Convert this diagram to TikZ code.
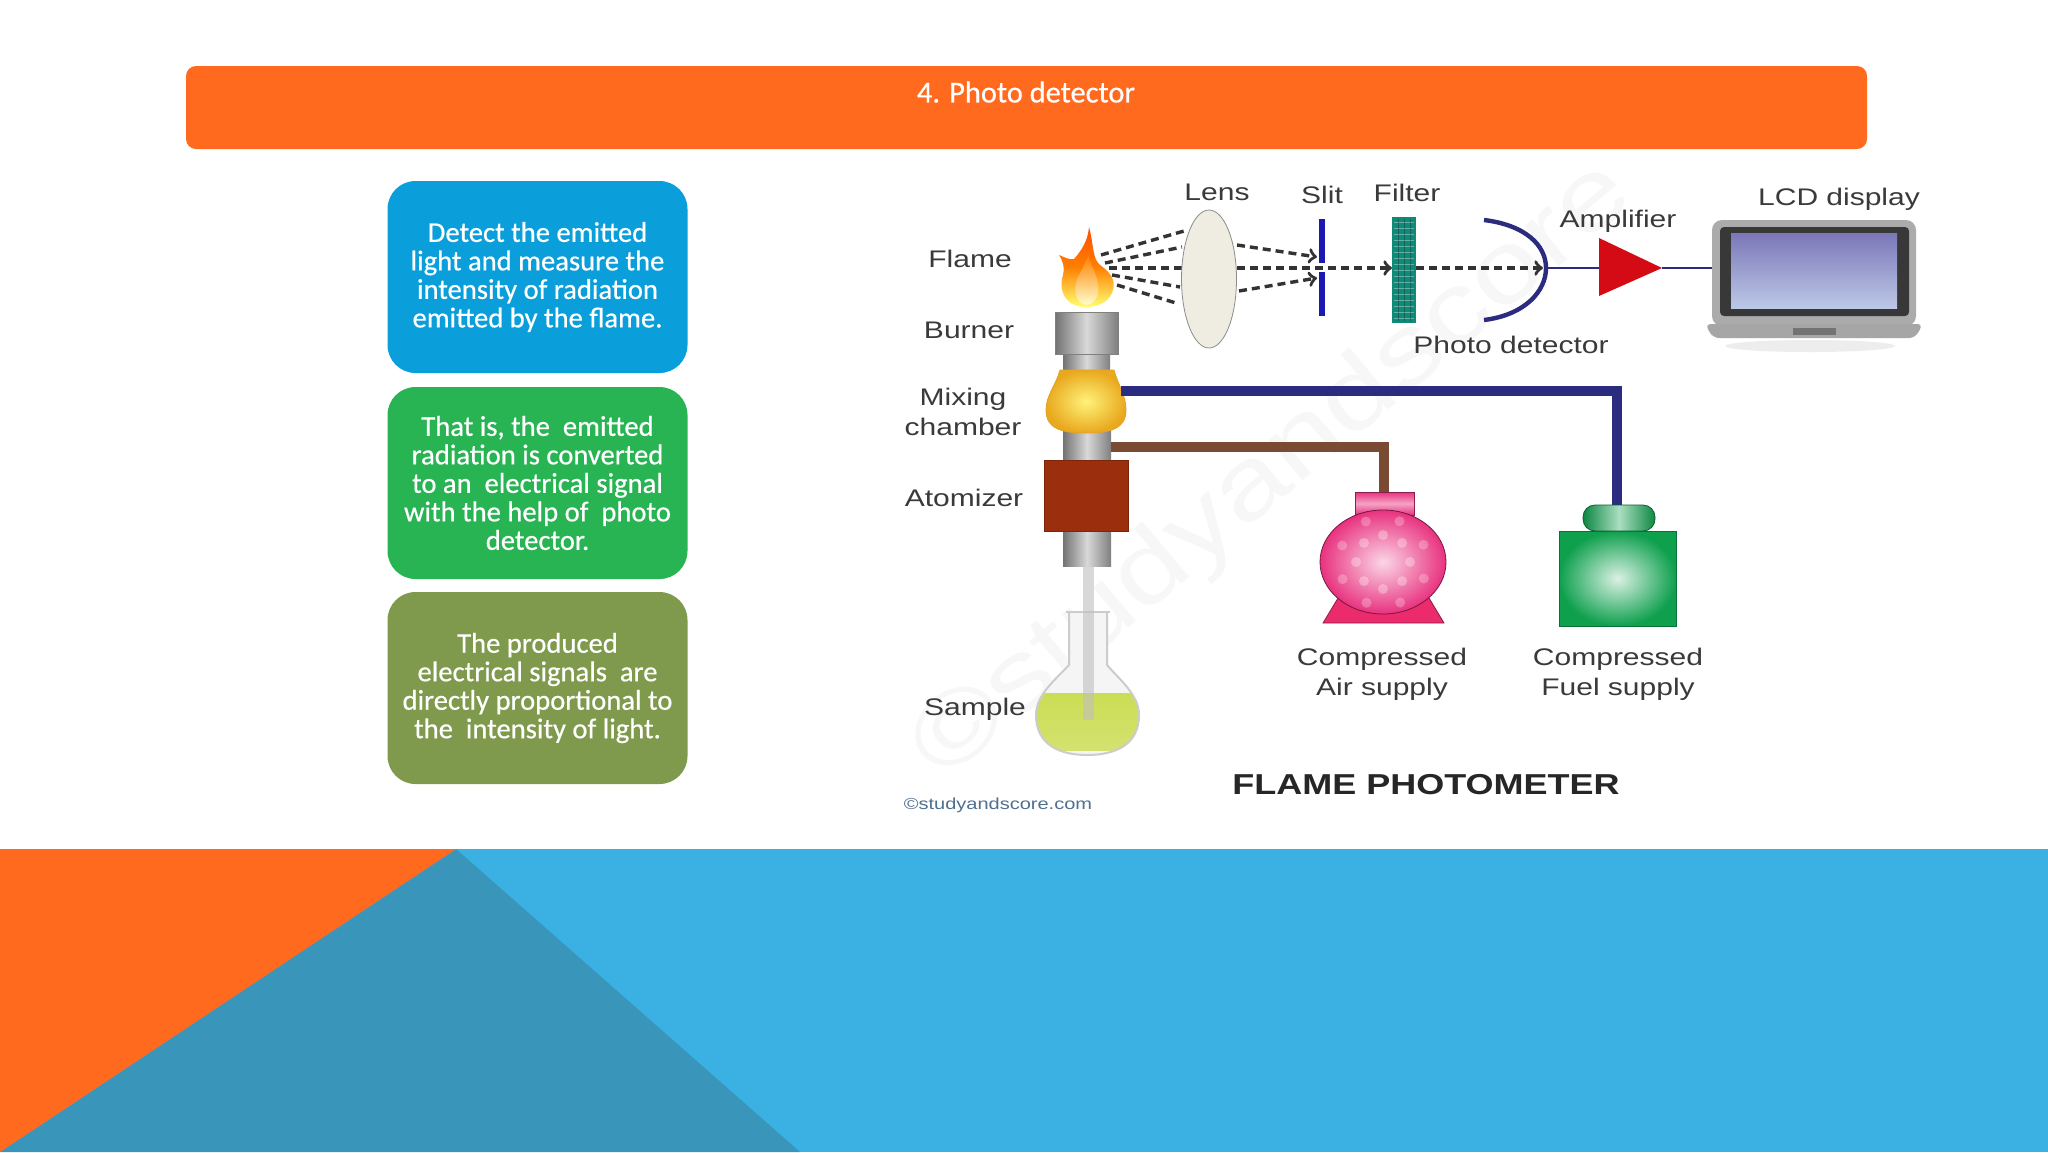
\documentclass[tikz,border=0pt]{standalone}
\usepackage{fontspec}
\setmainfont{Carlito}
\newfontfamily\boxfont[FakeBold=0.5]{Carlito}
\newfontfamily\labelfont[FakeStretch=1.25]{Liberation Sans}
\usetikzlibrary{shapes.geometric}

\definecolor{orangebar}{HTML}{FF6A1F}
\definecolor{skyband}{HTML}{3BB0E3}
\definecolor{tealband}{HTML}{3A95BA}
\definecolor{boxblue}{HTML}{0A9FDB}
\definecolor{boxgreen}{HTML}{29B454}
\definecolor{boxolive}{HTML}{7F9A4C}
\definecolor{labelgray}{HTML}{3A3A3A}
\definecolor{creditblue}{HTML}{4F7090}
\definecolor{navypipe}{HTML}{2B2B80}
\definecolor{brownpipe}{HTML}{7A4A33}
\definecolor{slitblue}{HTML}{1A1AB0}
\definecolor{filterteal}{HTML}{0F8A78}
\definecolor{ampred}{HTML}{D40A14}
\definecolor{brick}{HTML}{9B2E0C}
\definecolor{pinkball}{HTML}{E8327F}
\definecolor{greenbox}{HTML}{0FA04E}
\definecolor{lenscream}{HTML}{EFECE2}
\definecolor{screentop}{HTML}{7B77B8}
\definecolor{screenlow}{HTML}{BCC8E6}
\definecolor{liquid}{HTML}{CBDD55}
\definecolor{mixlight}{HTML}{FFF27A}
\definecolor{mixgold}{HTML}{E9A91E}

\tikzset{
  infobox/.style={rounded corners=14pt, minimum width=150pt, minimum height=96pt, inner sep=0pt,
    text=white, align=center, font=\boxfont\fontsize{14.3}{14.25}\selectfont},
  lab/.style={text=labelgray, align=center, inner sep=0pt, font=\labelfont\fontsize{12}{15}\selectfont},
  ray/.style={line width=1.7pt, dash pattern=on 4pt off 2.5pt, black!80},
  metal/.style={left color=black!55, right color=black!50, middle color=black!15},
  pipe/.style={line width=5pt}
}

\begin{document}
\begin{tikzpicture}[x=0.5pt, y=-0.5pt]

\useasboundingbox (0,0) rectangle (2048,1152);
\fill[white] (0,0) rectangle (2048,1152);

\node[rotate=40, text=black!3, font=\labelfont\fontsize{50}{50}\selectfont] (wmark) at (1274,472) {©studyandscore};

\fill[skyband] (0,849) rectangle (2048,1152);
\fill[tealband] (456,849) -- (800,1152) -- (0,1152) -- cycle;
\fill[orangebar] (0,849) -- (456,849) -- (0,1152) -- cycle;

\fill[orangebar, rounded corners=5pt] (186,66) rectangle (1867,149);
\node[text=white, font=\boxfont\fontsize{15.2}{16}\selectfont] (title) at (1026,92) {4. Photo detector};

\node[infobox, fill=boxblue] (detect) at (537.5,277) {Detect the emitted\\light and measure the\\intensity of radiation\\emitted by the flame.};
\node[infobox, fill=boxgreen] (convert) at (537.5,483) {That is, the~~emitted\\radiation is converted\\to an~~electrical signal\\with the help of~~photo\\detector.};
\node[infobox, fill=boxolive] (produce) at (537.5,688) {The produced\\electrical signals~~are\\directly proportional to\\the~~intensity of light.};

% flask
\fill[black!4] (1069,612) -- (1069,665) .. controls (1055,680) and (1036,695) .. (1036,715) .. controls (1036,745) and (1060,755) .. (1087,755) .. controls (1115,755) and (1139,745) .. (1139,715) .. controls (1139,695) and (1120,680) .. (1107,665) -- (1107,612) -- cycle;
\begin{scope}
\clip (1069,612) -- (1069,665) .. controls (1055,680) and (1036,695) .. (1036,715) .. controls (1036,745) and (1060,755) .. (1087,755) .. controls (1115,755) and (1139,745) .. (1139,715) .. controls (1139,695) and (1120,680) .. (1107,665) -- (1107,612) -- cycle;
\shade[top color=liquid, bottom color=liquid!85] (1030,693) rectangle (1145,750);
\end{scope}
\draw[black!20, line width=1pt] (1069,612) -- (1069,665) .. controls (1055,680) and (1036,695) .. (1036,715) .. controls (1036,745) and (1060,755) .. (1087,755) .. controls (1115,755) and (1139,745) .. (1139,715) .. controls (1139,695) and (1120,680) .. (1107,665) -- (1107,612);
\draw[black!20, line width=1.2pt] (1066,612) -- (1110,612);
\fill[black!25, opacity=0.6] (1083,566) rectangle (1094,720);

% burner column
\shade[metal] (1063,354) rectangle (1110,372);
\shade[metal] (1063,430) rectangle (1111,460);
\shade[metal] (1063,531) rectangle (1111,566);
\shade[metal, draw=black!50] (1055,312) rectangle (1118,354);
\fill[brick, draw=brick!80!black] (1044,460) rectangle (1128,531);
\path[inner color=mixlight, outer color=mixgold, draw=mixgold!85!brown] (1060,370) -- (1114,370) .. controls (1118,385) and (1126,395) .. (1126,410) .. controls (1126,428) and (1112,433) .. (1086,433) .. controls (1060,433) and (1046,428) .. (1046,410) .. controls (1046,395) and (1056,385) .. (1060,370) -- cycle;

\shade[top color=orange!60!red, bottom color=yellow!55, middle color=orange] (1086,307) .. controls (1066,307) and (1058,292) .. (1063,275) .. controls (1065,268) and (1063,261) .. (1059,255) .. controls (1066,258) and (1070,260) .. (1074,259) .. controls (1082,250) and (1088,240) .. (1089,227) .. controls (1094,245) and (1092,258) .. (1100,265) .. controls (1110,272) and (1116,280) .. (1113,290) .. controls (1110,302) and (1098,307) .. (1086,307);
\shade[top color=orange, bottom color=yellow!20] (1086,305) .. controls (1076,303) and (1072,290) .. (1078,277) .. controls (1082,270) and (1086,262) .. (1088,255) .. controls (1092,268) and (1100,280) .. (1098,292) .. controls (1097,300) and (1092,305) .. (1086,305);

% optics
\coordinate (fa) at (1101,255); \coordinate (la) at (1184,231);
\coordinate (fb) at (1105,263); \coordinate (lb) at (1182,247);
\coordinate (fc) at (1109,268); \coordinate (lc) at (1182,268);
\coordinate (fd) at (1112,275); \coordinate (ld) at (1180,287);
\coordinate (fe) at (1117,285); \coordinate (le) at (1176,303);
\foreach \n in {a,b,c,d,e} \draw[ray] (f\n) -- (l\n);

\node[ellipse, draw=black!45, fill=lenscream, minimum width=27.5pt, minimum height=69pt, inner sep=0pt] (lens) at (1209,279) {};

\coordinate (ra) at (1237,245); \coordinate (sa) at (1317,257);
\coordinate (rc) at (1237,268); \coordinate (fil) at (1392,268);
\coordinate (re) at (1239,291); \coordinate (se) at (1317,278);
\draw[ray, ->] (ra) -- (sa);
\draw[ray, ->] (rc) -- (fil);
\draw[ray, ->] (re) -- (se);

\draw[slitblue, line width=3pt] (1322,219) -- (1322,263);
\draw[slitblue, line width=3pt] (1322,272) -- (1322,316);

\fill[filterteal] (1392,217) rectangle (1416,323);
\foreach \y in {222,228,...,320} \draw[white, opacity=0.35, line width=0.5pt] (1394,\y) -- (1414,\y);
\foreach \x in {1398,1404,1410} \draw[black, opacity=0.25, line width=0.5pt] (\x,219) -- (\x,321);

% detector, amplifier, display
\coordinate (filout) at (1416,268);
\coordinate (det) at (1546,268);
\draw[ray, ->] (filout) -- (1543,268);
\draw[navypipe, line width=2.2pt] (1484,220) .. controls (1525,225) and (1546,245) .. (det) .. controls (1546,291) and (1525,315) .. (1484,320);

\coordinate (ampin) at (1599,268);
\coordinate (ampout) at (1662,268);
\coordinate (lcdin) at (1712,268);
\fill[ampred] (1599,238) -- (ampout) -- (1599,296) -- cycle;
\draw[navypipe, line width=1.1pt] (det) -- (ampin);
\draw[navypipe, line width=1.1pt] (ampout) -- (lcdin);

\fill[black!7] (1810,346) ellipse (85 and 6);
\fill[black!33, rounded corners=5pt] (1712,220) rectangle (1916,326);
\fill[black!78, rounded corners=2pt] (1720,227) rectangle (1909,316);
\shade[top color=screentop, bottom color=screenlow] (1731,233) rectangle (1897,308);
\fill[black!35, rounded corners=3pt] (1705,324) -- (1923,324) -- (1915,338) -- (1713,338) -- cycle;
\fill[black!55] (1793,328) rectangle (1836,335);

% pipes
\coordinate (fuelin) at (1121,391);
\coordinate (fuelturn) at (1617,391);
\coordinate (fuelcap) at (1617,506);
\draw[navypipe, pipe] (fuelin) -- (fuelturn) -- (fuelcap);
\coordinate (airin) at (1111,447);
\coordinate (airturn) at (1384,447);
\coordinate (airneck) at (1384,493);
\draw[brownpipe, pipe] (airin) -- (airturn) -- (airneck);

% air supply
\fill[pinkball!85!red, draw=pinkball!60!black] (1323,623) -- (1338,598) -- (1429,598) -- (1444,623) -- cycle;
\shade[top color=pinkball, bottom color=pinkball, middle color=pinkball!45, draw=pinkball!60!black] (1355,492) rectangle (1414,515);
\path[inner color=pinkball!20, outer color=pinkball, draw=pinkball!50!black] (1383,562) ellipse (63 and 52);
\foreach \a in {0,45,...,315} \fill[white, opacity=0.3] (1383,562) ++(\a:27) circle (5);
\foreach \a in {22,67,...,337} \fill[white, opacity=0.25] (1383,562) ++(\a:44) circle (5);

% fuel supply
\path[inner color=greenbox!15, outer color=greenbox, draw=greenbox!70!black] (1559,531) rectangle (1676,626);
\path[left color=greenbox!85!black, right color=greenbox!85!black, middle color=greenbox!35, draw=greenbox!60!black, rounded corners=6pt] (1583,505) rectangle (1655,531);

% labels
\node[lab] (flame) at (970,259) {Flame};
\node[lab] (burner) at (969,330) {Burner};
\node[lab] (mixing) at (963,412) {Mixing\\chamber};
\node[lab] (atomizer) at (964,498) {Atomizer};
\node[lab] (sample) at (975,709) {Sample};
\node[lab] (lenslab) at (1217,192) {Lens};
\node[lab] (slit) at (1322,195) {Slit};
\node[lab] (filter) at (1407,193) {Filter};
\node[lab] (amplifier) at (1618,221) {Amplifier};
\node[lab] (lcd) at (1839,199) {LCD display};
\node[lab] (photo) at (1511,345) {Photo detector};
\node[lab] (air) at (1382,674) {Compressed\\Air supply};
\node[lab] (fuel) at (1618,674) {Compressed\\Fuel supply};
\node[text=black!85, inner sep=0pt, font=\labelfont\bfseries\fontsize{14.4}{16}\selectfont] (heading) at (1426,785) {FLAME PHOTOMETER};
\node[text=creditblue, inner sep=0pt, font=\labelfont\fontsize{8}{9}\selectfont] (credit) at (998,805) {©studyandscore.com};

\end{tikzpicture}
\end{document}
